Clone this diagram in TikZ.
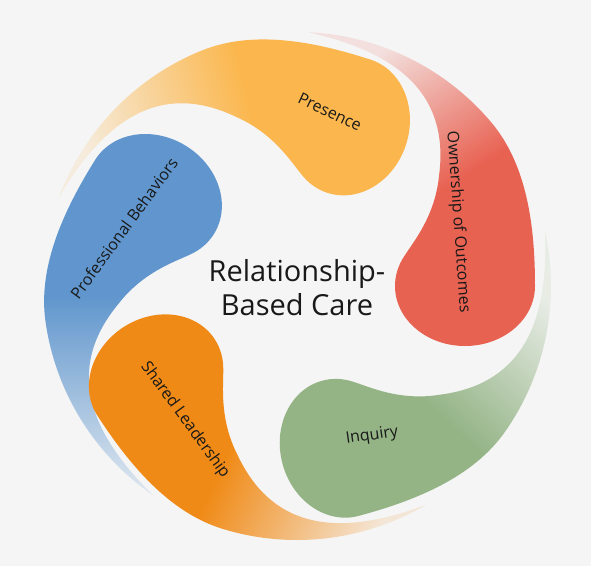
\documentclass[tikz,border=0pt]{standalone}
\usepackage{fontspec}
\setmainfont{Open Sans}
\definecolor{bgcol}{RGB}{245,245,245}
\definecolor{presencecol}{RGB}{251,183,78}
\definecolor{ownercol}{RGB}{232,98,82}
\definecolor{inquirycol}{RGB}{148,180,134}
\definecolor{sharedcol}{RGB}{240,138,22}
\definecolor{profcol}{RGB}{96,150,205}
\definecolor{labelcol}{RGB}{25,25,25}
\colorlet{swirlfull}{ownercol}
\colorlet{swirlpale}{bgcol}
\pgfdeclareverticalshading[swirlfull,swirlpale]{swirlfade}{100bp}{%
  color(0bp)=(swirlfull); color(25bp)=(swirlfull); color(48bp)=(swirlfull);
  color(75bp)=(swirlpale); color(100bp)=(swirlpale)}
\tikzset{
  swirl/.style={shading=swirlfade,shading angle=#1},
  swirllabel/.style={font=\fontsize{16}{19}\selectfont,text=labelcol,inner sep=1pt},
  hublabel/.style={font=\fontsize{29}{34}\selectfont,text=labelcol,align=center},
}
% one swirl, drawn in the frame of "Ownership of Outcomes"
\newcommand\swirloutline{(87.5:254) arc[start angle=87.5,end angle=40,radius=254]
  .. controls (230,121) and (238,60) .. (238,0)
  arc[start angle=0,end angle=-210,x radius=70,y radius=60]
  .. controls (117,45) and (138,70) .. (142,110)
  .. controls (152,185) and (110,232) .. (87.5:254) -- cycle}

\begin{document}
\begin{tikzpicture}[x=1pt,y=1pt]
\fill[bgcol] (-297,-280) rectangle (294,286);
\useasboundingbox (-297,-280) rectangle (294,286);
% the five swirls
\foreach \rot/\col in {0/ownercol,72/presencecol,148/profcol,213/sharedcol,285/inquirycol}{
  \colorlet{swirlfull}{\col}
  \colorlet{swirlpale}{\col!14!bgcol}
  \pgfmathsetmacro\fade{\rot+32}
  \shade[swirl=\fade,rotate=\rot] \swirloutline;
}
\node[hublabel] (hub) at (0,-2) {Relationship-\\Based Care};
\node[swirllabel,rotate=-25] (presence) at (33,174) {Presence};
\node[swirllabel,rotate=-86] (ownership) at (161,64) {Ownership of Outcomes};
\node[swirllabel,rotate=8] (inquiry) at (75,-150) {Inquiry};
\node[swirllabel,rotate=-54] (shared) at (-112,-134) {Shared Leadership};
\node[swirllabel,rotate=54] (professional) at (-173,58) {Professional Behaviors};
\end{tikzpicture}
\end{document}
